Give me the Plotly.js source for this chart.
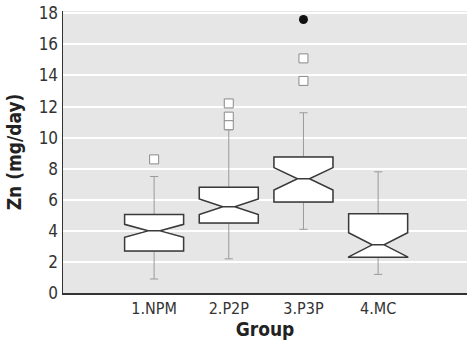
<!DOCTYPE html>
<html>
<head>
<meta charset="utf-8">
<script src="https://cdn.plot.ly/plotly-3.0.1.min.js"></script>
<style>html,body{margin:0;padding:0;background:#fff;}#chart{width:474px;height:353px;}</style>
</head>
<body>
<div id="chart"></div>
<script>
// Data
var groups = ["1.NPM", "2.P2P", "3.P3P", "4.MC"];
var lowerWhisker = [0.9, 2.2, 4.1, 1.2];
var q1 = [2.7, 4.5, 5.85, 2.3];
var median = [4.0, 5.55, 7.35, 3.1];
var q3 = [5.05, 6.8, 8.75, 5.1];
var upperWhisker = [7.5, 10.5, 11.6, 7.8];
var notchSpan = [0.42, 0.5, 0.72, 0.78];
var outlierGroup = ["1.NPM", "2.P2P", "2.P2P", "2.P2P", "3.P3P", "3.P3P"];
var outlierValue = [8.6, 12.2, 11.35, 10.8, 15.1, 13.65];
var extremeGroup = ["3.P3P"];
var extremeValue = [17.6];

var FONT = "'Liberation Sans Narrow', 'DejaVu Sans Condensed', 'Arial Narrow', sans-serif";

var whiskers = {
  type: "box", x: groups, q1: q1, median: median, q3: q3,
  lowerfence: lowerWhisker, upperfence: upperWhisker,
  notched: true, notchspan: notchSpan, notchwidth: 0.4,
  width: 0.79, whiskerwidth: 0.14, boxpoints: false,
  fillcolor: "#ffffff", line: {color: "#9a9a9a", width: 1},
  hoverinfo: "skip", showlegend: false
};
var boxes = {
  type: "box", x: groups, q1: q1, median: median, q3: q3,
  lowerfence: q1, upperfence: q3,
  notched: true, notchspan: notchSpan, notchwidth: 0.4,
  width: 0.79, whiskerwidth: 0, boxpoints: false,
  fillcolor: "#ffffff", line: {color: "#3a3a3a", width: 1.5},
  hoverinfo: "skip", showlegend: false
};
var outliers = {
  type: "scatter", mode: "markers", x: outlierGroup, y: outlierValue,
  marker: {symbol: "square", size: 9, color: "#ffffff", line: {color: "#8a8a8a", width: 1}},
  hoverinfo: "skip", showlegend: false
};
var extremes = {
  type: "scatter", mode: "markers", x: extremeGroup, y: extremeValue,
  marker: {symbol: "circle", size: 9, color: "#111111"},
  hoverinfo: "skip", showlegend: false
};

var layout = {
  width: 474, height: 353,
  margin: {l: 63, r: 7, t: 11, b: 60},
  paper_bgcolor: "#ffffff", plot_bgcolor: "#e6e6e6",
  font: {family: FONT, color: "#222", size: 16},
  boxmode: "overlay",
  xaxis: {
    type: "category", categoryorder: "array", categoryarray: groups,
    range: [-1.22, 4.19], showgrid: false, zeroline: false,
    showline: true, linecolor: "#333", linewidth: 1.5,
    ticks: "", tickfont: {family: FONT, size: 16, color: "#333"},
    title: {text: "<b>Group</b>", font: {family: FONT, size: 19, color: "#222"}, standoff: 6}
  },
  yaxis: {
    range: [0, 18.15], dtick: 2, tick0: 0,
    showgrid: true, gridcolor: "#ffffff", gridwidth: 2, zeroline: false,
    showline: true, linecolor: "#333", linewidth: 1.5,
    ticks: "", ticklen: 0, tickfont: {family: FONT, size: 17, color: "#333"},
    title: {text: "<b>Zn (mg/day)</b>", font: {family: FONT, size: 19, color: "#222"}, standoff: 12}
  }
};

Plotly.newPlot("chart", [whiskers, boxes, outliers, extremes], layout, {staticPlot: true, displayModeBar: false});
</script>
</body>
</html>
